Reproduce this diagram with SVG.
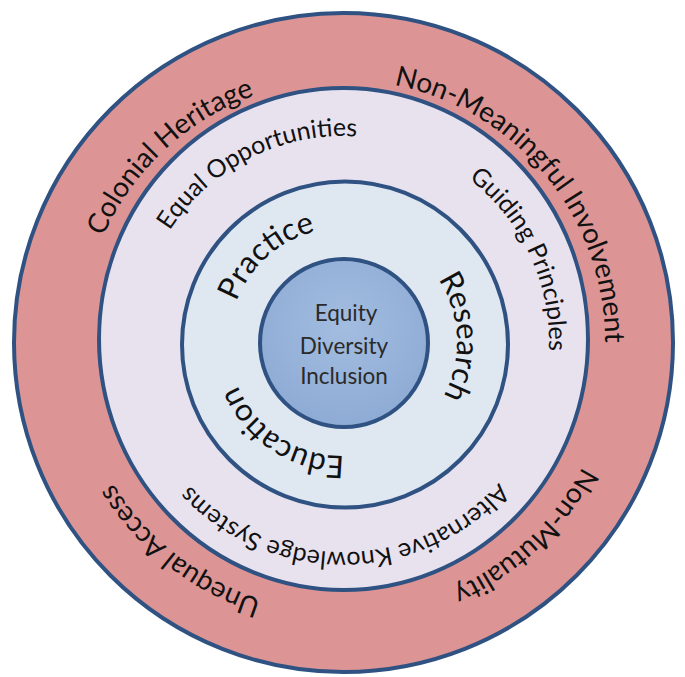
<svg xmlns="http://www.w3.org/2000/svg" xmlns:xlink="http://www.w3.org/1999/xlink" width="685" height="677" viewBox="0 0 685 677">
<style>
.ring{stroke:#2f5282;stroke-width:4}
.t{font-family:Lato,"Liberation Sans",sans-serif;fill:#111}
.outer{font-size:28px}
.mid{font-size:25px}
.inner{font-size:31px}
.core{font-family:Lato,"Liberation Sans",sans-serif;font-size:22.5px;fill:#2a2a2a;text-anchor:middle}
</style>
<defs>
<path id="pOuter" d="M81,342 A262,262 0 1 1 605,342 A262,262 0 1 1 81,342"/>
<path id="pOuterB" d="M73,342 A270,270 0 1 1 613,342 A270,270 0 1 1 73,342"/>
<path id="pMid" d="M137,342 A206,206 0 1 1 549,342 A206,206 0 1 1 137,342"/>
<path id="pMidB" d="M133,342 A210,210 0 1 1 553,342 A210,210 0 1 1 133,342"/>
<path id="pInner" d="M229,342 A114,114 0 1 1 457,342 A114,114 0 1 1 229,342"/>
<radialGradient id="gCore" cx="0.5" cy="0.4" r="0.6">
<stop offset="0" stop-color="#a3bde0"/>
<stop offset="1" stop-color="#8eabd5"/>
</radialGradient>
</defs>
<rect width="685" height="677" fill="#ffffff"/>
<g id="ring-outer">
<circle class="ring" cx="343.5" cy="342.5" r="329.5" fill="#dc9594"/>
<text class="t outer"><textPath href="#pOuter" startOffset="13.06%" text-anchor="middle">Colonial Heritage</textPath></text>
<text class="t outer"><textPath href="#pOuter" startOffset="39.08%" text-anchor="middle">Non-Meaningful Involvement</textPath></text>
<text class="t outer"><textPath href="#pOuterB" startOffset="85.56%" text-anchor="middle">Unequal Access</textPath></text>
<text class="t outer"><textPath href="#pOuterB" startOffset="63%" text-anchor="middle">Non-Mutuality</textPath></text>
</g>
<g id="ring-middle">
<ellipse class="ring" cx="343.5" cy="339" rx="244.5" ry="251" fill="#e8e2ef"/>
<text class="t mid"><textPath href="#pMid" startOffset="17.58%" text-anchor="middle">Equal Opportunities</textPath></text>
<text class="t mid"><textPath href="#pMid" startOffset="43.06%" text-anchor="middle">Guiding Principles</textPath></text>
<text class="t mid"><textPath href="#pMidB" startOffset="74.86%" text-anchor="middle">Alternative Knowledge Systems</textPath></text>
</g>
<g id="ring-inner">
<circle class="ring" cx="345" cy="344.5" r="163" fill="#dfe7f1"/>
<text class="t inner"><textPath href="#pInner" startOffset="13.44%" text-anchor="middle">Practice</textPath></text>
<text class="t inner"><textPath href="#pInner" startOffset="49.31%" text-anchor="middle">Research</textPath></text>
<text class="t inner"><textPath href="#pInner" startOffset="84.3%" text-anchor="middle">Education</textPath></text>
</g>
<g id="core">
<circle class="ring" cx="344" cy="343" r="84" fill="url(#gCore)"/>
<text class="core" x="346" y="321">Equity</text>
<text class="core" x="344" y="354">Diversity</text>
<text class="core" x="344" y="384">Inclusion</text>
</g>
<g id="connectors"/>
</svg>
